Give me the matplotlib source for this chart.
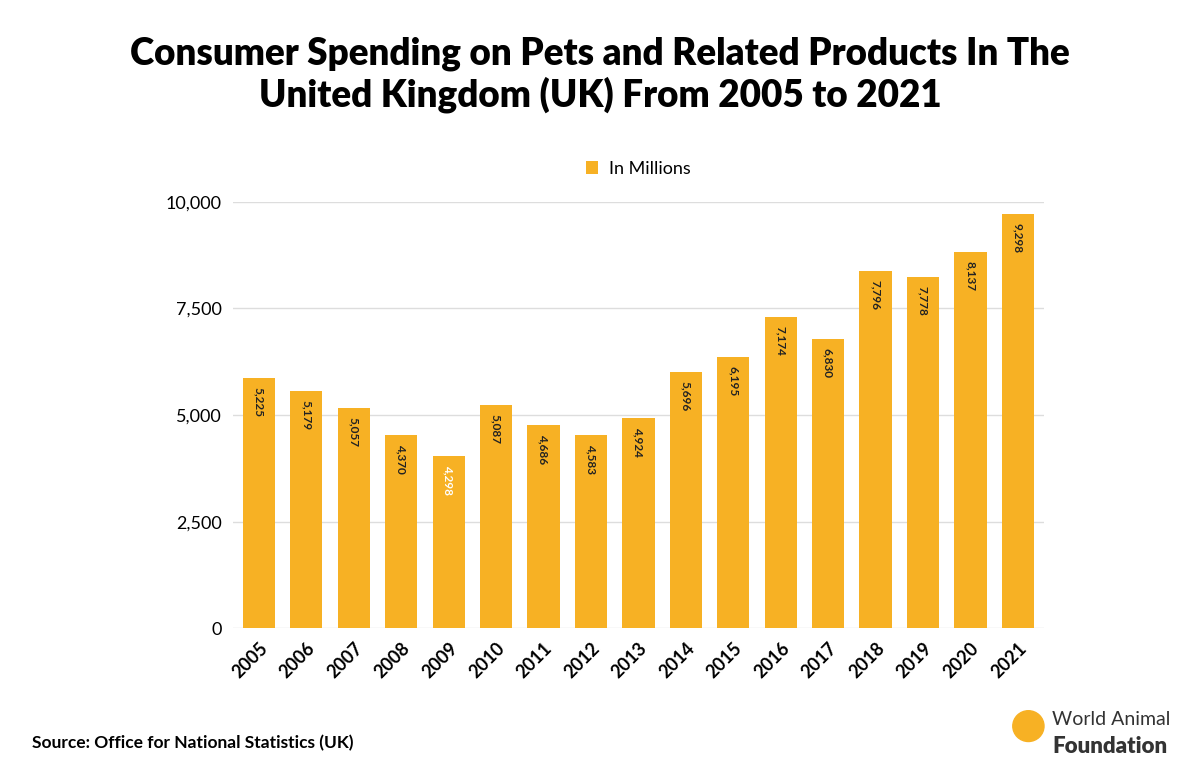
import matplotlib
matplotlib.use("Agg")
import matplotlib.pyplot as plt

years = [str(y) for y in range(2005, 2022)]
bar_heights = [5869, 5563, 5164, 4530, 4038, 5235, 4765, 4530, 4930, 6009, 6362, 7300, 6784, 8380, 8239, 8826, 9718]
labels = ["5,225", "5,179", "5,057", "4,370", "4,298", "5,087", "4,686", "4,583", "4,924",
          "5,696", "6,195", "7,174", "6,830", "7,796", "7,778", "8,137", "9,298"]
yticks = [0, 2500, 5000, 7500, 10000]
ytick_labels = ["0", "2,500", "5,000", "7,500", "10,000"]

plt.rcParams['font.family'] = ['Lato', 'DejaVu Sans']
color = "#F7B124"
fig = plt.figure(figsize=(12, 7.7), dpi=100)
ax = fig.add_axes([0.194, 0.184, 0.676, 0.554])
x = range(len(years))
ax.bar(x, bar_heights, width=0.68, color=color, zorder=2, label="In Millions")
for i, (h, lab) in enumerate(zip(bar_heights, labels)):
    ax.text(i, h - 220, lab, rotation=270, ha='center', va='top', fontsize=8.5,
            fontweight='bold', color='white' if years[i] == "2009" else '#222222')
ax.set_xlim(-0.55, len(years) - 0.45)
ax.set_ylim(0, 10000)
ax.set_yticks(yticks)
ax.set_yticklabels(ytick_labels, fontsize=13)
ax.set_xticks(list(x))
ax.set_xticklabels(years, rotation=45, ha='right', rotation_mode='anchor', fontsize=13, fontweight='bold')
ax.grid(axis='y', color='#dddddd', linewidth=1, zorder=0)
for s in ax.spines.values():
    s.set_visible(False)
ax.tick_params(length=0, pad=8)
ax.legend(loc='lower center', bbox_to_anchor=(0.5, 1.02), frameon=False, fontsize=13,
          handlelength=0.7, handleheight=0.7, handletextpad=0.6)
fig.text(0.5, 0.953, "Consumer Spending on Pets and Related Products In The\nUnited Kingdom (UK) From 2005 to 2021",
         ha='center', va='top', fontsize=26.5, fontweight='heavy', linespacing=1.18)
fig.text(0.027, 0.028, "Source: Office for National Statistics (UK)", fontsize=12.5, fontweight='bold')
fig.text(0.877, 0.058, "World Animal", fontsize=14, color='#333333')
fig.text(0.877, 0.022, "Foundation", fontsize=16, fontweight='heavy', color='#333333')
fig.patches.append(matplotlib.patches.Ellipse((0.857, 0.057), 0.026, 0.04, transform=fig.transFigure, color=color))
fig.savefig("out.png")
